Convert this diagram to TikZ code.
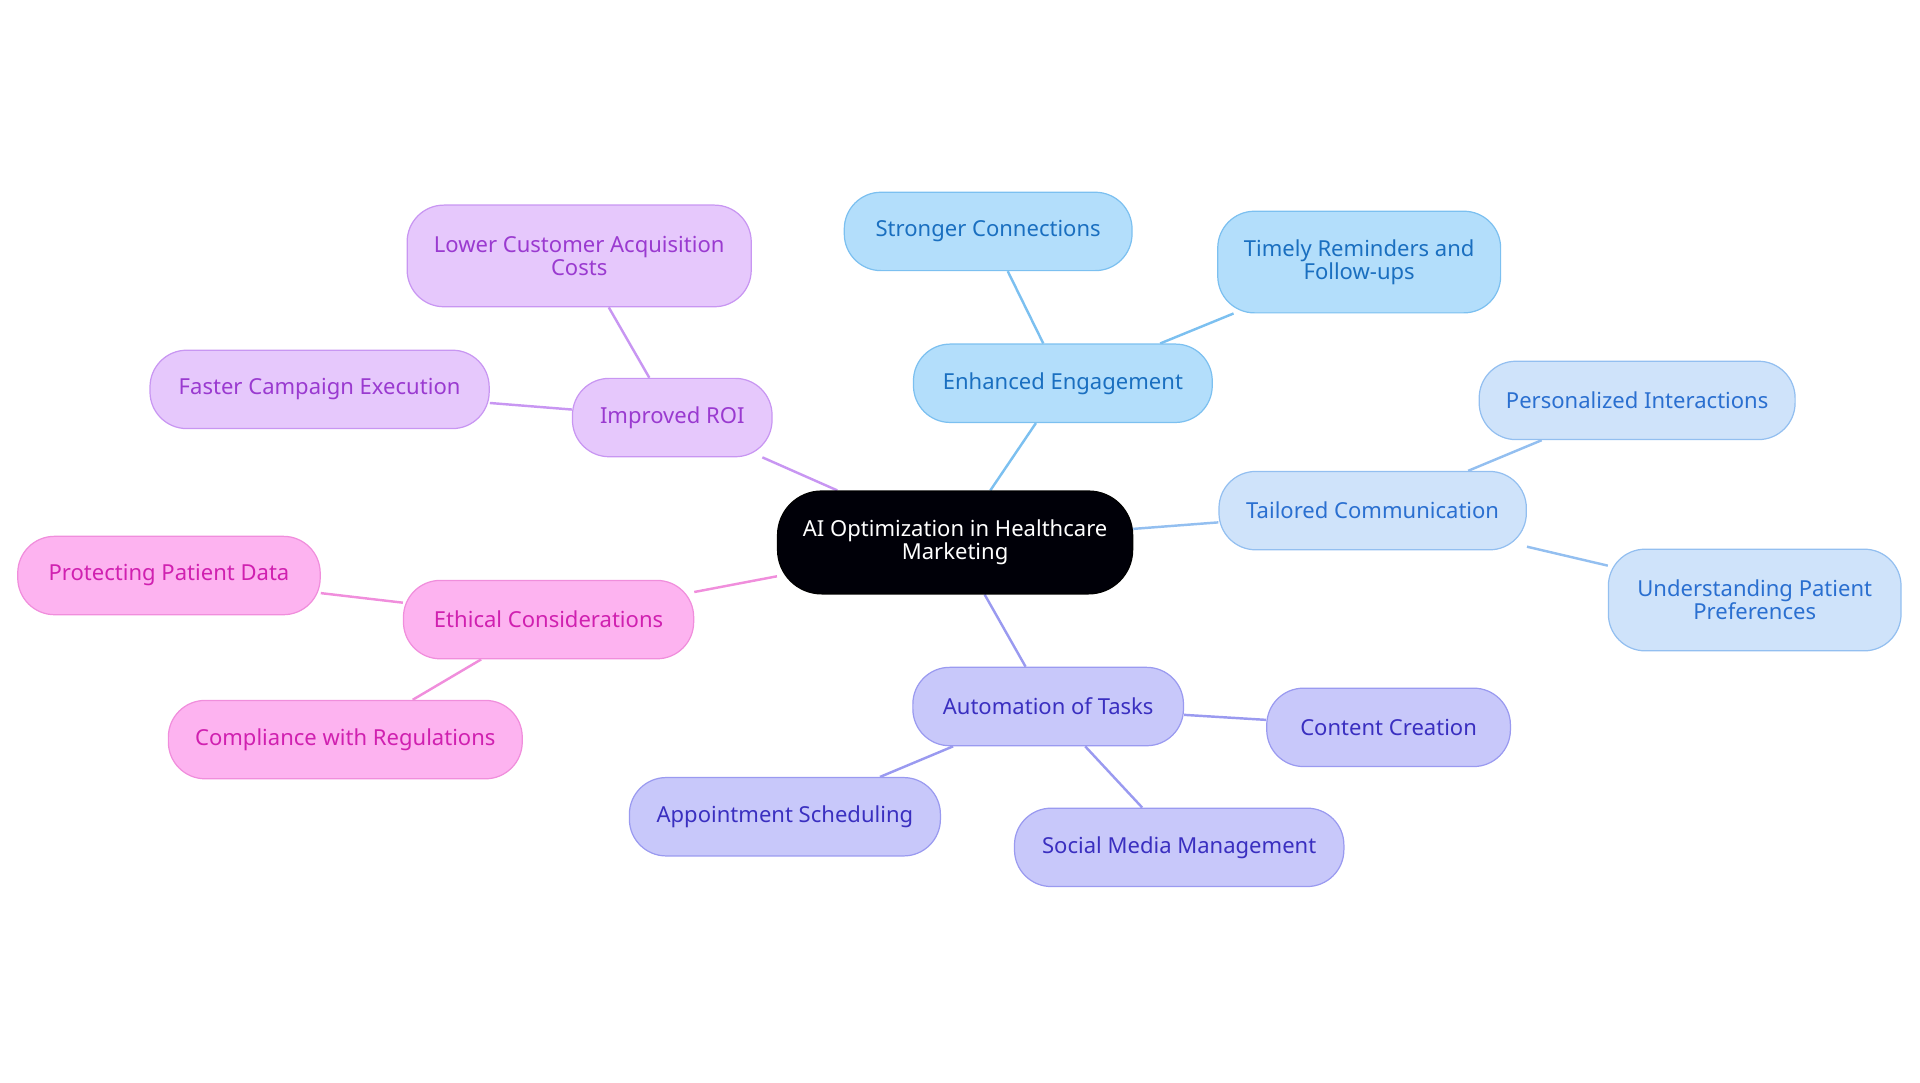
\documentclass[tikz,border=0pt]{standalone}
\usepackage{fontspec}
\setmainfont{Noto Sans}
\usetikzlibrary{backgrounds}
\definecolor{bA}{HTML}{B3DEFB}\definecolor{bAd}{HTML}{7CC0F0}\definecolor{bAt}{HTML}{1A6FC0}
\definecolor{bB}{HTML}{CFE3FA}\definecolor{bBd}{HTML}{93BFF0}\definecolor{bBt}{HTML}{2A6FD0}
\definecolor{bC}{HTML}{C8C8FA}\definecolor{bCd}{HTML}{9A9AF0}\definecolor{bCt}{HTML}{3A2FC0}
\definecolor{bD}{HTML}{E6C8FC}\definecolor{bDd}{HTML}{C896F2}\definecolor{bDt}{HTML}{9A3AD0}
\definecolor{bE}{HTML}{FDB3F0}\definecolor{bEd}{HTML}{F08EDC}\definecolor{bEt}{HTML}{D020B0}
\tikzset{
 box/.style={draw, rounded corners=15pt, align=center, font=\fontsize{9}{9.5}\selectfont, inner sep=2pt, line width=0.5pt},
 A/.style={box, fill=bA, draw=bAd, text=bAt}, B/.style={box, fill=bB, draw=bBd, text=bBt},
 C/.style={box, fill=bC, draw=bCd, text=bCt}, D/.style={box, fill=bD, draw=bDd, text=bDt},
 E/.style={box, fill=bE, draw=bEd, text=bEt},
 eA/.style={bAd, line width=1pt}, eB/.style={bBd, line width=1pt}, eC/.style={bCd, line width=1pt},
 eD/.style={bDd, line width=1pt}, eE/.style={bEd, line width=1pt},
}
\newcommand{\bx}[6]{\node[#1, minimum width=#4*0.5pt, minimum height=#5*0.5pt] (#2) at (#3) {#6};}
\begin{document}
\begin{tikzpicture}[x=0.5pt,y=-0.5pt]
\useasboundingbox (0,0) rectangle (1568,884);
\node[box, fill=black!90!blue!30!black, draw=black, text=white, rounded corners=18pt, minimum width=145pt, minimum height=42pt] (c) at (780,443) {AI Optimization in Healthcare\\Marketing};
\bx{A}{ee}{868,313}{244}{64}{Enhanced Engagement}
\bx{A}{sc}{807,189}{235}{64}{Stronger Connections}
\bx{A}{tr}{1110,214}{231}{83}{Timely Reminders and\\Follow-ups}
\bx{B}{tc}{1121,417}{251}{64}{Tailored Communication}
\bx{B}{pi}{1337,327}{258}{64}{Personalized Interactions}
\bx{B}{up}{1433,490}{239}{83}{Understanding Patient\\Preferences}
\bx{C}{at}{856,577}{221}{64}{Automation of Tasks}
\bx{C}{cc}{1134,594}{199}{64}{Content Creation}
\bx{C}{sm}{963,692}{269}{64}{Social Media Management}
\bx{C}{as}{641,667}{254}{64}{Appointment Scheduling}
\bx{D}{ir}{549,341}{163}{64}{Improved ROI}
\bx{D}{lc}{473,209}{281}{83}{Lower Customer Acquisition\\Costs}
\bx{D}{fc}{261,318}{277}{64}{Faster Campaign Execution}
\bx{E}{ec}{448,506}{237}{64}{Ethical Considerations}
\bx{E}{pd}{138,470}{247}{64}{Protecting Patient Data}
\bx{E}{cr}{282,604}{289}{64}{Compliance with Regulations}
\begin{scope}[on background layer]
\draw[eA] (c)--(ee); \draw[eA] (ee)--(sc); \draw[eA] (ee)--(tr);
\draw[eB] (c)--(tc); \draw[eB] (tc)--(pi); \draw[eB] (tc)--(up);
\draw[eC] (c)--(at); \draw[eC] (at)--(cc); \draw[eC] (at)--(sm); \draw[eC] (at)--(as);
\draw[eD] (c)--(ir); \draw[eD] (ir)--(lc); \draw[eD] (ir)--(fc);
\draw[eE] (c)--(ec); \draw[eE] (ec)--(pd); \draw[eE] (ec)--(cr);
\end{scope}
\end{tikzpicture}
\end{document}
